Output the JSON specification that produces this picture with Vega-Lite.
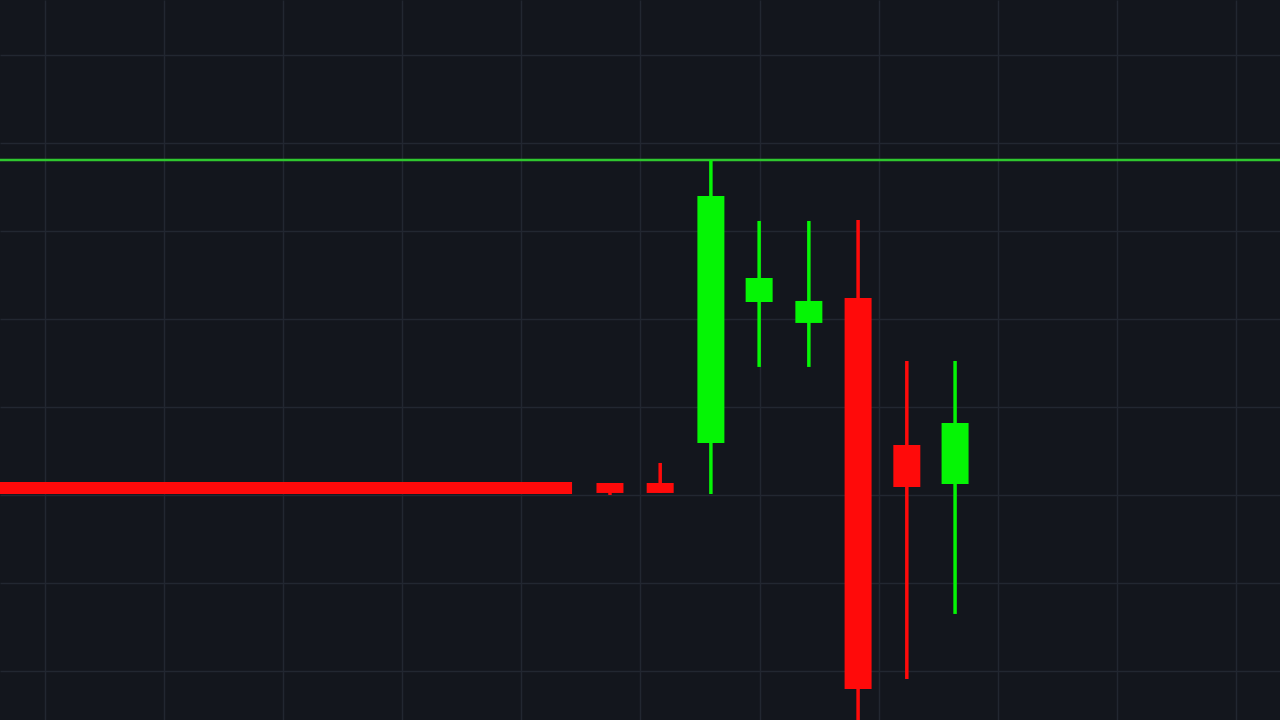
{
  "$schema": "https://vega.github.io/schema/vega-lite/v6.json",
  "autosize": {"type": "fit", "contains": "padding"},
  "width": 1280,
  "height": 720,
  "padding": 0,
  "background": "#13161d",
  "config": {
    "view": {"stroke": null, "fill": "#13161d"},
    "axis": {"grid": true, "gridColor": "#222731", "gridWidth": 1.5, "labels": false, "ticks": false, "domain": false, "title": null}
  },
  "datasets": {
    "candles": [
      {"t": 12.39, "open": 121.36, "close": 120.23, "high": 121.36, "low": 120.0, "dir": "down"},
      {"t": 13.41, "open": 121.36, "close": 120.23, "high": 123.64, "low": 120.23, "dir": "down"},
      {"t": 14.44, "open": 125.91, "close": 153.98, "high": 158.07, "low": 120.11, "dir": "up"},
      {"t": 15.42, "open": 141.93, "close": 144.66, "high": 151.14, "low": 134.55, "dir": "up"},
      {"t": 16.43, "open": 139.55, "close": 142.05, "high": 151.14, "low": 134.55, "dir": "up"},
      {"t": 17.43, "open": 142.39, "close": 97.95, "high": 151.25, "low": 94.43, "dir": "down"},
      {"t": 18.42, "open": 125.68, "close": 120.91, "high": 135.23, "low": 99.09, "dir": "down"},
      {"t": 19.40, "open": 121.25, "close": 128.18, "high": 135.23, "low": 106.48, "dir": "up"}
    ],
    "flat": [
      {"t0": 0, "t1": 11.62, "open": 121.48, "close": 120.11, "dir": "down"}
    ],
    "level": [
      {"price": 158.07}
    ]
  },
  "layer": [
    {
      "data": {"name": "level"},
      "mark": {"type": "rule", "color": "#2fc62f", "strokeWidth": 2.5, "clip": true},
      "encoding": {
        "y": {"field": "price", "type": "quantitative", "scale": {"domain": [94.43, 176.25], "nice": false, "zero": false, "padding": 0},
              "axis": {"values": [100, 110, 120, 130, 140, 150, 160, 170]}}
      }
    },
    {
      "data": {"name": "flat"},
      "mark": {"type": "rect", "clip": true},
      "encoding": {
        "x": {"field": "t0", "type": "quantitative", "scale": {"domain": [0, 26], "nice": false, "zero": false, "padding": 0},
              "axis": {"values": [0.914, 3.331, 5.749, 8.166, 10.583, 13.0, 15.44, 17.855, 20.27, 22.69, 25.11]}},
        "x2": {"field": "t1"},
        "y": {"field": "open", "type": "quantitative"},
        "y2": {"field": "close"},
        "color": {"field": "dir", "type": "nominal", "scale": {"domain": ["up", "down"], "range": ["#05f505", "#ff0a0a"]}, "legend": null}
      }
    },
    {
      "data": {"name": "candles"},
      "mark": {"type": "rule", "strokeWidth": 3.5, "clip": true},
      "encoding": {
        "x": {"field": "t", "type": "quantitative"},
        "y": {"field": "low", "type": "quantitative"},
        "y2": {"field": "high"},
        "color": {"field": "dir", "type": "nominal", "legend": null}
      }
    },
    {
      "data": {"name": "candles"},
      "mark": {"type": "bar", "width": 27, "clip": true},
      "encoding": {
        "x": {"field": "t", "type": "quantitative"},
        "y": {"field": "open", "type": "quantitative"},
        "y2": {"field": "close"},
        "color": {"field": "dir", "type": "nominal", "legend": null}
      }
    }
  ]
}
